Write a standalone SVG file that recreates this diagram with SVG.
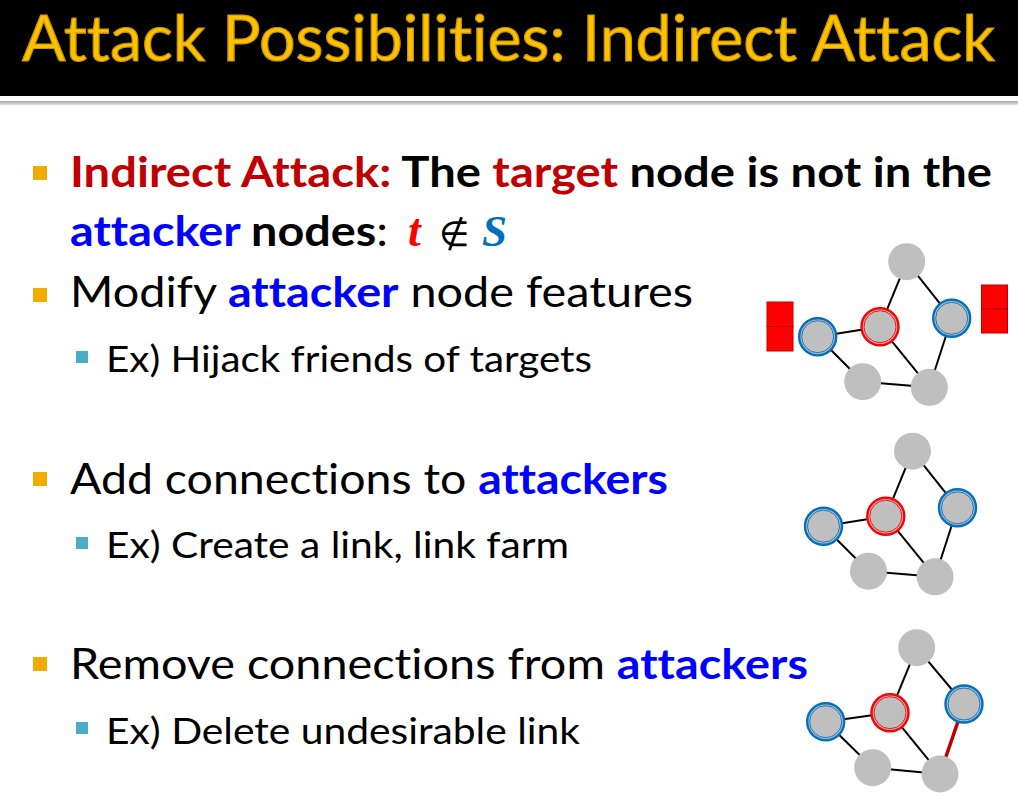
<svg xmlns="http://www.w3.org/2000/svg" width="1018" height="797" viewBox="0 0 1018 797">
<defs>
<linearGradient id="rule" x1="0" y1="0" x2="0" y2="1">
<stop offset="0" stop-color="#A6A6A6"/>
<stop offset="1" stop-color="#E6E6E6"/>
</linearGradient>
</defs>
<style>
.t{font-family:Lato,"Open Sans","Liberation Sans",sans-serif;font-variant-ligatures:none}
.main{font-size:42px;fill:#000}
.sub{font-size:37px;fill:#000}
.b{font-weight:bold}
.red{fill:#C00000}
.blue{fill:#0000FF}
.ob{fill:#F0AC00}
.tb{fill:#4BACC6}
.edge{stroke:#000;stroke-width:2;fill:none}
.cut{stroke:#C00000;stroke-width:3.5;fill:none}
.gray{fill:#BFBFBF}
.ring{fill:#BFBFBF;stroke-width:2.4}
.inner{fill:none;stroke-width:0.9}
.tg{stroke:#FF0000}
.at{stroke:#0070C0}
.feat{fill:#FF0000;stroke:#C00000;stroke-width:1}
</style>
<rect x="0" y="0" width="1018" height="797" fill="#fff"/>
<g id="title">
<rect x="0" y="0" width="1018" height="96" fill="#000"/>
<rect x="0" y="101" width="1018" height="4" fill="url(#rule)"/>
<text class="t" x="22" y="61" font-size="64" fill="#FFC000" stroke="#C89600" stroke-width="1.2" textLength="973" lengthAdjust="spacingAndGlyphs">Attack Possibilities: Indirect Attack</text>
</g>
<g id="bullets">
<rect class="ob" x="33" y="166" width="14" height="14"/>
<text class="t main b" x="70" y="187" textLength="922" lengthAdjust="spacingAndGlyphs"><tspan class="red">Indirect Attack:</tspan> The <tspan class="red">target</tspan> node is not in the</text>
<text class="t main" x="70" y="246" textLength="318" lengthAdjust="spacingAndGlyphs"><tspan class="b blue">attacker</tspan><tspan class="b"> nodes</tspan>:</text>
<text x="408" y="246" font-family="'Liberation Serif',serif" font-size="46" font-weight="bold" font-style="italic" fill="#FF0000">t</text>
<text x="439" y="246" font-family="'DejaVu Sans',sans-serif" font-size="35" fill="#000">∉</text>
<text x="482" y="246" font-family="'Liberation Serif',serif" font-size="45" font-weight="bold" font-style="italic" fill="#0070C0">S</text>

<rect class="ob" x="33" y="288" width="14" height="14"/>
<text class="t main" x="70" y="307" textLength="623" lengthAdjust="spacingAndGlyphs">Modify <tspan class="b blue">attacker</tspan> node features</text>
<rect class="tb" x="76" y="351" width="12" height="12"/>
<text class="t sub" x="106" y="372" textLength="486" lengthAdjust="spacingAndGlyphs">Ex) Hijack friends of targets</text>

<rect class="ob" x="33" y="472" width="14" height="14"/>
<text class="t main" x="70" y="494" textLength="598" lengthAdjust="spacingAndGlyphs">Add connections to <tspan class="b blue">attackers</tspan></text>
<rect class="tb" x="76" y="537" width="12" height="12"/>
<text class="t sub" x="106" y="558" textLength="463" lengthAdjust="spacingAndGlyphs">Ex) Create a link, link farm</text>

<rect class="ob" x="33" y="657" width="14" height="14"/>
<text class="t main" x="70" y="679" textLength="738" lengthAdjust="spacingAndGlyphs">Remove connections from <tspan class="b blue">attackers</tspan></text>
<rect class="tb" x="76" y="722" width="12" height="12"/>
<text class="t sub" x="106" y="744" textLength="474" lengthAdjust="spacingAndGlyphs">Ex) Delete undesirable link</text>
</g>

<g id="connectors">
<g id="edges-1">
<line class="edge" x1="906.7" y1="261.7" x2="880" y2="326.7"/>
<line class="edge" x1="906.7" y1="261.7" x2="951.7" y2="318.3"/>
<line class="edge" x1="817.7" y1="336.7" x2="880" y2="326.7"/>
<line class="edge" x1="817.7" y1="336.7" x2="862.7" y2="381.7"/>
<line class="edge" x1="862.7" y1="381.7" x2="929.3" y2="387.3"/>
<line class="edge" x1="880" y1="326.7" x2="929.3" y2="387.3"/>
<line class="edge" x1="951.7" y1="318.3" x2="929.3" y2="387.3"/>
</g>
<g id="edges-2" transform="translate(5.8,189.5)">
<line class="edge" x1="906.7" y1="261.7" x2="880" y2="326.7"/>
<line class="edge" x1="906.7" y1="261.7" x2="951.7" y2="318.3"/>
<line class="edge" x1="817.7" y1="336.7" x2="880" y2="326.7"/>
<line class="edge" x1="817.7" y1="336.7" x2="862.7" y2="381.7"/>
<line class="edge" x1="862.7" y1="381.7" x2="929.3" y2="387.3"/>
<line class="edge" x1="880" y1="326.7" x2="929.3" y2="387.3"/>
<line class="edge" x1="951.7" y1="318.3" x2="929.3" y2="387.3"/>
</g>
<g id="edges-3" transform="translate(10,386)">
<line class="edge" x1="906.7" y1="261.7" x2="880" y2="326.7"/>
<line class="edge" x1="906.7" y1="261.7" x2="954" y2="318"/>
<line class="edge" x1="815.7" y1="335.7" x2="880" y2="326.7"/>
<line class="edge" x1="815.7" y1="335.7" x2="862.7" y2="381.7"/>
<line class="edge" x1="862.7" y1="381.7" x2="930" y2="388"/>
<line class="edge" x1="880" y1="326.7" x2="930" y2="388"/>
<line class="cut" x1="954" y1="318" x2="930" y2="388"/>
</g>
</g>

<g id="graph-1">
<g id="g1-feat-left"><rect class="feat" x="767" y="302" width="26" height="24.5"/><rect class="feat" x="767" y="326.5" width="26" height="24.5"/></g>
<g id="g1-feat-right"><rect class="feat" x="981.5" y="285" width="26" height="24"/><rect class="feat" x="981.5" y="309" width="26" height="24"/></g>
<g id="g1-top"><circle class="gray" cx="906.7" cy="261.7" r="18.5"/></g>
<g id="g1-target"><circle class="ring tg" cx="880" cy="326.7" r="18.5"/><circle class="inner tg" cx="880" cy="326.7" r="16"/></g>
<g id="g1-attacker-left"><circle class="ring at" cx="817.7" cy="336.7" r="18.5"/><circle class="inner at" cx="817.7" cy="336.7" r="16"/></g>
<g id="g1-attacker-right"><circle class="ring at" cx="951.7" cy="318.3" r="18.5"/><circle class="inner at" cx="951.7" cy="318.3" r="16"/></g>
<g id="g1-bottom-left"><circle class="gray" cx="862.7" cy="381.7" r="18.5"/></g>
<g id="g1-bottom-right"><circle class="gray" cx="929.3" cy="387.3" r="18.5"/></g>
</g>

<g id="graph-2" transform="translate(5.8,189.5)">
<g id="g2-top"><circle class="gray" cx="906.7" cy="261.7" r="18.5"/></g>
<g id="g2-target"><circle class="ring tg" cx="880" cy="326.7" r="18.5"/><circle class="inner tg" cx="880" cy="326.7" r="16"/></g>
<g id="g2-attacker-left"><circle class="ring at" cx="817.7" cy="336.7" r="18.5"/><circle class="inner at" cx="817.7" cy="336.7" r="16"/></g>
<g id="g2-attacker-right"><circle class="ring at" cx="951.7" cy="318.3" r="18.5"/><circle class="inner at" cx="951.7" cy="318.3" r="16"/></g>
<g id="g2-bottom-left"><circle class="gray" cx="862.7" cy="381.7" r="18.5"/></g>
<g id="g2-bottom-right"><circle class="gray" cx="929.3" cy="387.3" r="18.5"/></g>
</g>

<g id="graph-3" transform="translate(10,386)">
<g id="g3-top"><circle class="gray" cx="906.7" cy="261.7" r="18.5"/></g>
<g id="g3-target"><circle class="ring tg" cx="880" cy="326.7" r="18.5"/><circle class="inner tg" cx="880" cy="326.7" r="16"/></g>
<g id="g3-attacker-left"><circle class="ring at" cx="815.7" cy="335.7" r="18.5"/><circle class="inner at" cx="815.7" cy="335.7" r="16"/></g>
<g id="g3-attacker-right"><circle class="ring at" cx="954" cy="318" r="18.5"/><circle class="inner at" cx="954" cy="318" r="16"/></g>
<g id="g3-bottom-left"><circle class="gray" cx="862.7" cy="381.7" r="18.5"/></g>
<g id="g3-bottom-right"><circle class="gray" cx="930" cy="388" r="18.5"/></g>
</g>
</svg>
